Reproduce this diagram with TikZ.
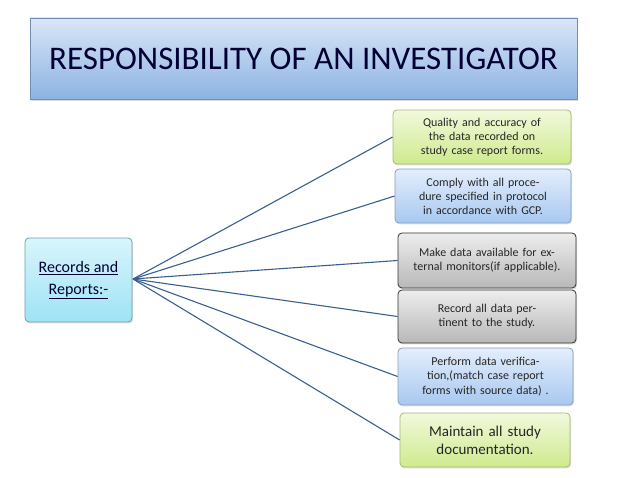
\documentclass[tikz,border=0pt]{standalone}
\usepackage{fontspec}
\setmainfont{Carlito}
\usetikzlibrary{shadows}
\definecolor{tb}{HTML}{8DB3E2}
\definecolor{tbl}{HTML}{D9E6F8}
\definecolor{gr}{HTML}{CFEA8E}
\definecolor{grl}{HTML}{F1F9DC}
\definecolor{bl}{HTML}{A8C8F0}
\definecolor{bll}{HTML}{E3EEFC}
\definecolor{gy}{HTML}{B8B8B8}
\definecolor{gyl}{HTML}{EDEDED}
\definecolor{cy}{HTML}{9EE3F5}
\definecolor{cyl}{HTML}{D8F5FC}
\definecolor{ln}{HTML}{3A5F8F}
\tikzset{
 bx/.style={draw, rounded corners=4pt, line width=0.8pt, align=center, inner sep=2pt, drop shadow={opacity=0.25,shadow xshift=1pt,shadow yshift=-1.5pt}, font=\fontsize{12}{14}\selectfont, text=black!85},
 gbox/.style={bx, draw=gr!80!black, top color=grl, bottom color=gr},
 bbox/.style={bx, draw=bl!80!black, top color=bll, bottom color=bl},
 ybox/.style={bx, draw=black!80, top color=gyl, bottom color=gy},
 conn/.style={draw=ln, line width=1.1pt}
}
\begin{document}
\begin{tikzpicture}[x=1pt,y=-1pt]
\useasboundingbox (0,0) rectangle (638,478);
\node[draw=tb!80!black, line width=0.8pt, top color=tbl, bottom color=tb, minimum width=547pt, minimum height=81pt, drop shadow={opacity=0.3,shadow xshift=1pt,shadow yshift=-2pt}, font=\fontsize{33}{36}\selectfont, text=black!80!blue] (title) at (303.5,58.5) {RESPONSIBILITY OF AN INVESTIGATOR};
\node[bx, draw=cy!70!black, top color=cyl, bottom color=cy, minimum width=107pt, minimum height=84pt, font=\fontsize{16}{22}\selectfont, text=black!80!blue] (rr) at (78.5,280) {\underline{Records and}\\\underline{Reports:-}};
\coordinate (hub) at (133,279);
\node[gbox, minimum width=178pt, minimum height=54pt, text width=172pt] (b1) at (482,137) {Quality and accuracy of the data recorded on study case report forms.};
\node[bbox, minimum width=176pt, minimum height=54pt, text width=170pt] (b2) at (483,196) {Comply with all procedure specified in protocol in accordance with GCP.};
\node[ybox, minimum width=178pt, minimum height=55pt, text width=150pt] (b3) at (487,260.5) {Make data available for external monitors(if applicable).};
\node[ybox, minimum width=178pt, minimum height=53pt, text width=172pt] (b4) at (487,316.5) {Record all data pertinent to the study.};
\node[bbox, minimum width=175pt, minimum height=57pt, text width=165pt, font=\fontsize{12}{14.5}\selectfont] (b5) at (485.5,376.5) {Perform data verification,(match case report forms with source data) .};
\node[gbox, minimum width=170pt, minimum height=54pt, text width=165pt, font=\fontsize{15}{18}\selectfont] (b6) at (485,440) {Maintain all study documentation.};
\foreach \b in {b1,b2,b3,b4,b5,b6} \draw[conn] (hub) -- (\b.west);
\end{tikzpicture}
\end{document}
